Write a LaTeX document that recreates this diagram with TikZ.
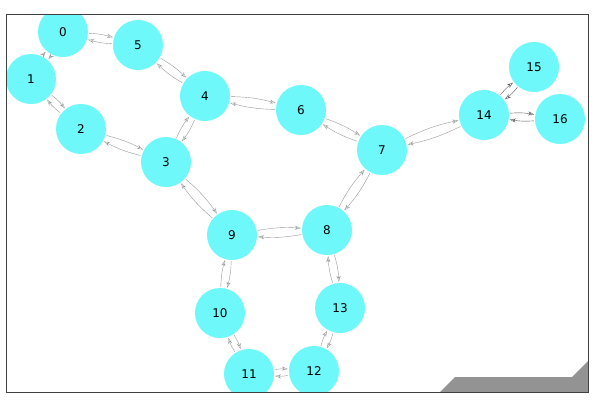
\documentclass[tikz,border=0pt]{standalone}
\usepackage{fontspec}
\setmainfont{DejaVu Sans}
\usetikzlibrary{arrows.meta}
\begin{document}
\begin{tikzpicture}[x=1pt,y=-1pt,
  vtx/.style={circle,fill={rgb,255:red,110;green,248;blue,250},minimum size=50pt,inner sep=0pt,font=\fontsize{12}{12}\selectfont},
  arc/.style={draw=gray!80,-{Stealth[length=6pt,width=4pt,open]},shorten >=1pt,shorten <=1pt,bend left=7},
  darc/.style={arc,draw=black!65}]
\useasboundingbox (0,0) rectangle (600,405);
\fill[white] (0,0) rectangle (600,405);
\begin{scope}
\clip (6,14) rectangle (588,392);
\foreach \n/\x/\y in {0/63/32,1/31/79,2/81/129,3/166/162,4/205/96,5/138/45,6/301/110,7/382/150,8/327/230,9/232/235,10/220/313,11/249/374,12/314/371,13/340/308,14/484/115,15/534/67,16/560/119}
  \node[vtx] (n\n) at (\x,\y) {\n};
\foreach \a/\b in {0/5,0/1,1/2,2/3,3/4,4/5,4/6,6/7,7/14,7/8,8/9,9/3,9/10,10/11,11/12,12/13,13/8}{
  \draw[arc] (n\a) to (n\b);
  \draw[arc] (n\b) to (n\a);}
\foreach \a/\b in {14/15,14/16}{
  \draw[darc] (n\a) to (n\b);
  \draw[darc] (n\b) to (n\a);}
\fill[gray!85] (440,392) -- (455,377) -- (572,377) -- (588,361) -- (588,392) -- cycle;
\end{scope}
\draw[black!75,line width=0.8pt] (6,14) rectangle (588,392);
\end{tikzpicture}
\end{document}
